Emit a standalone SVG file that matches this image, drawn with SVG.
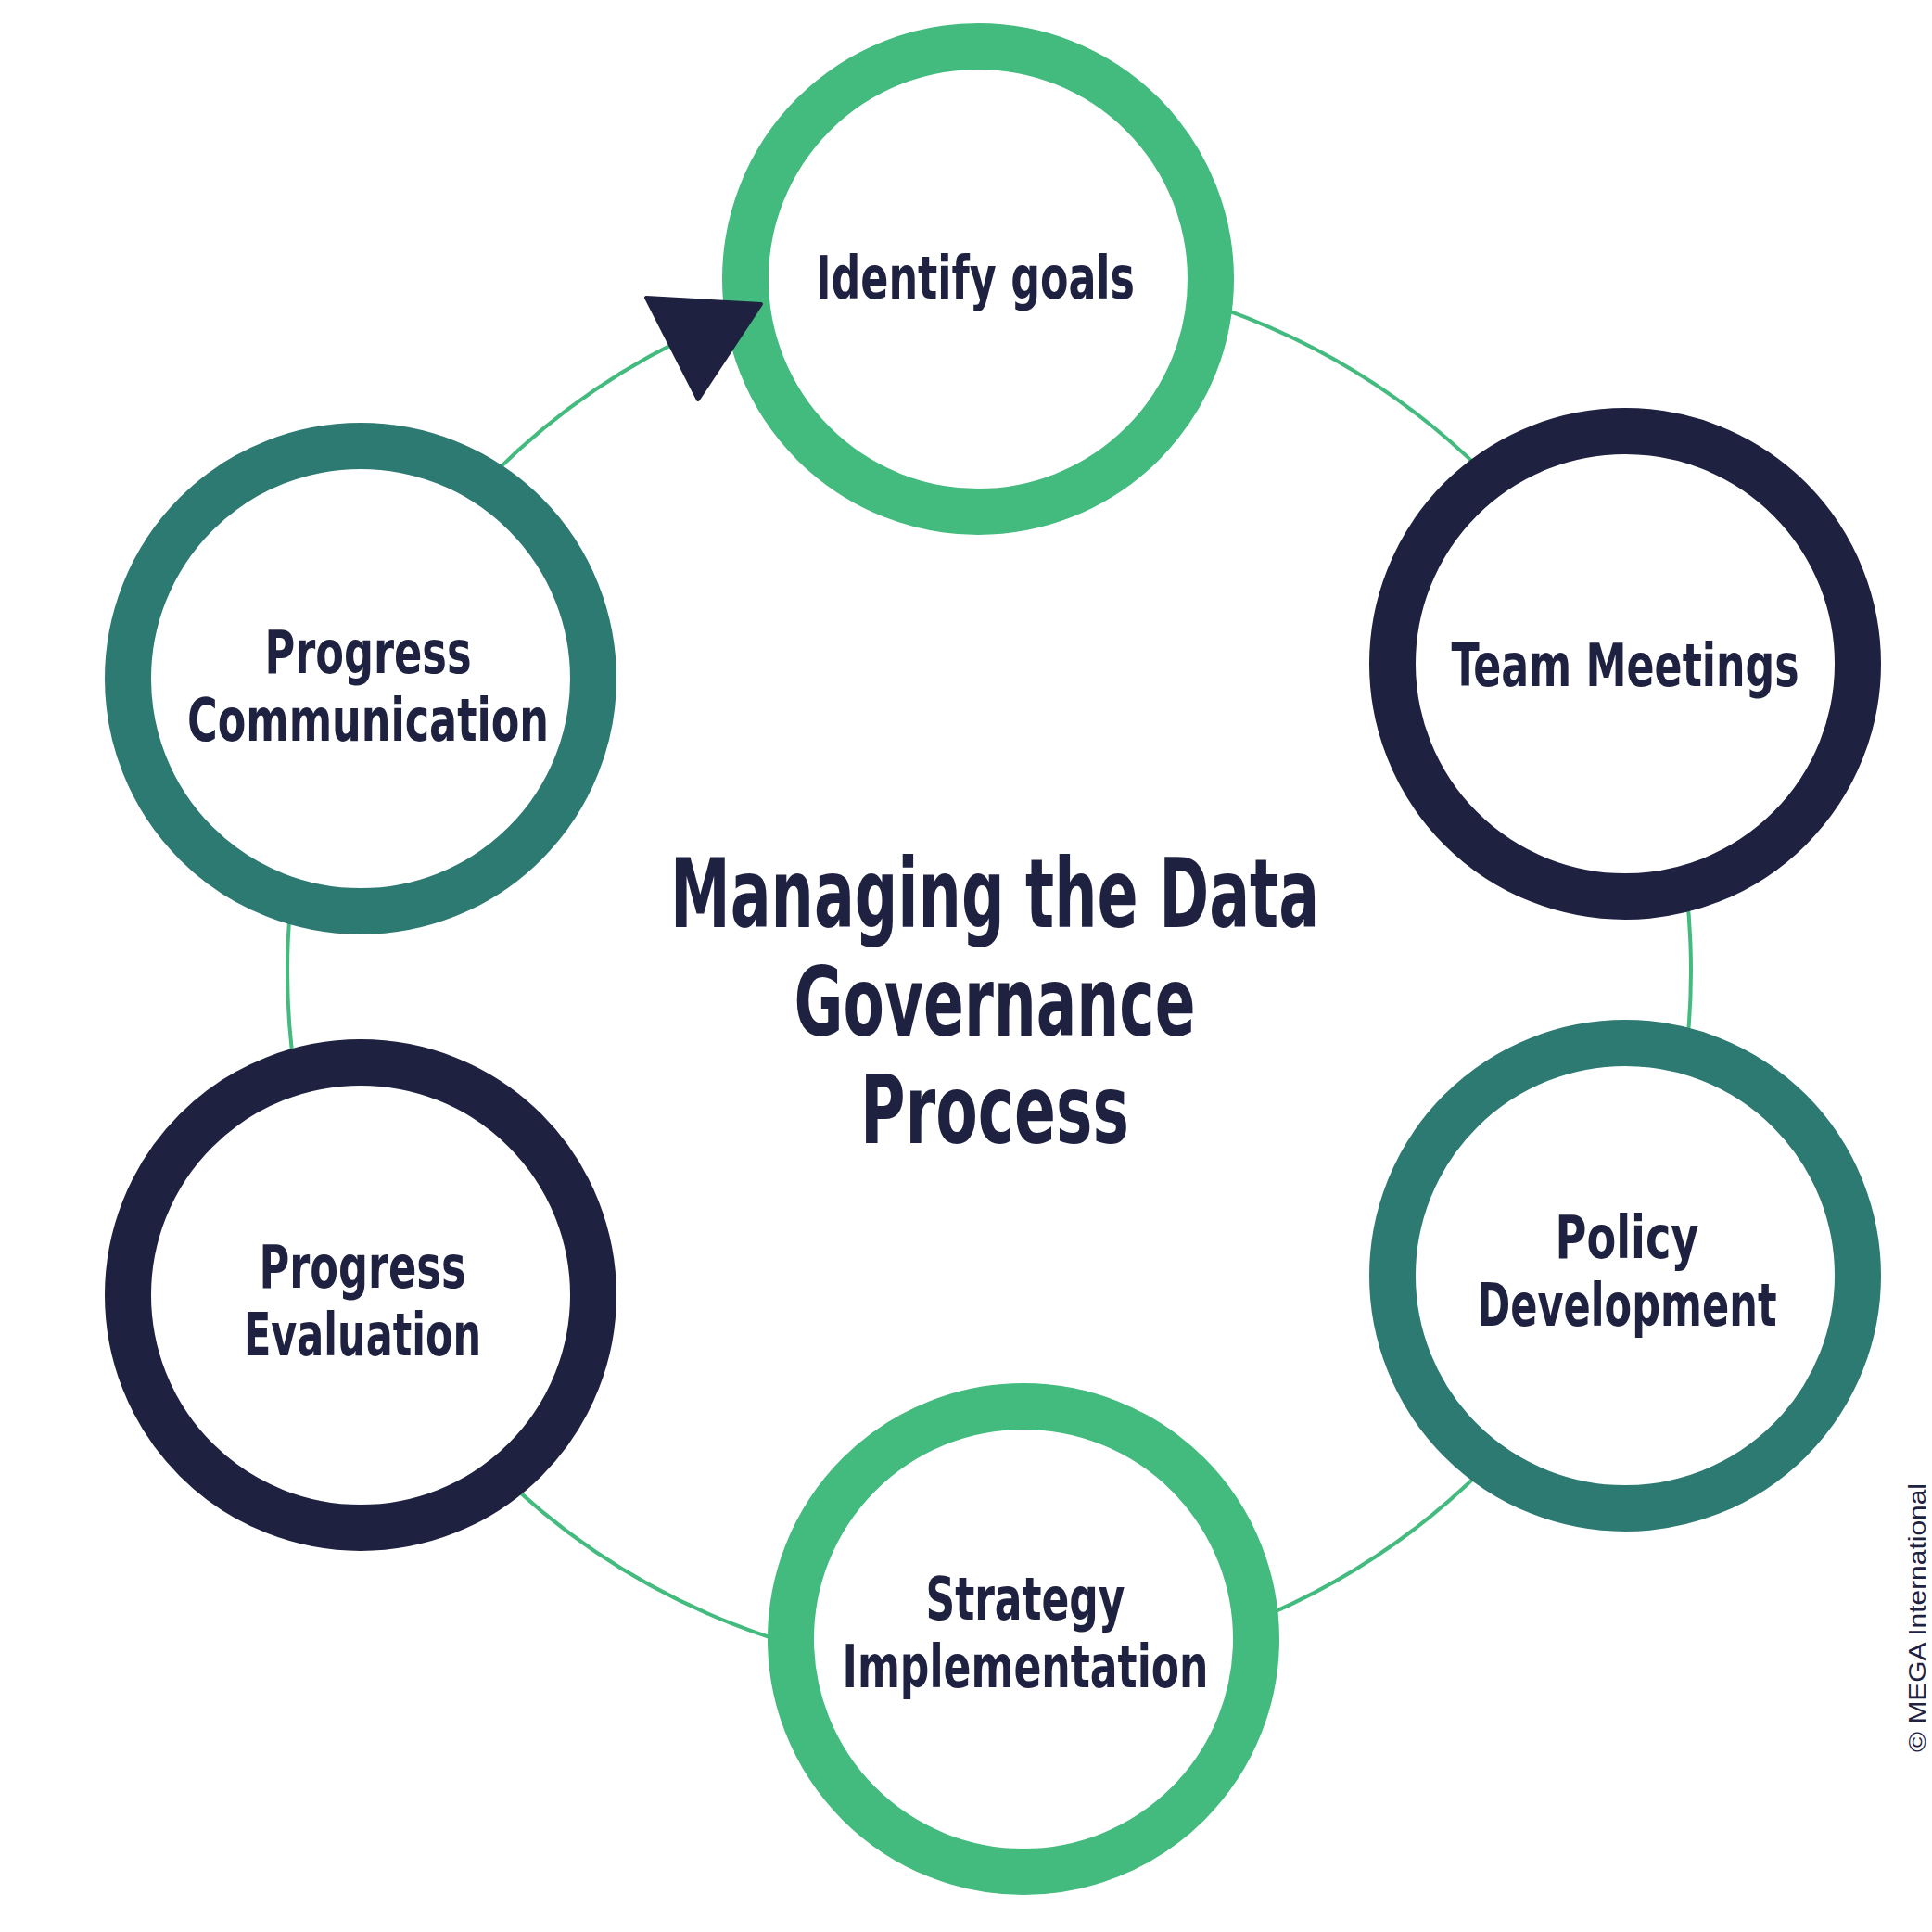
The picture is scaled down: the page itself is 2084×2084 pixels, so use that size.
<svg xmlns="http://www.w3.org/2000/svg" width="2084" height="2084" viewBox="0 0 2084 2084">
<style>
.ring{fill:#fff;stroke-width:50}
.g{stroke:#43BA7E}.n{stroke:#1E2140}.t{stroke:#2D7A72}
.lbl{font-family:"Liberation Sans Narrow","DejaVu Sans Condensed",sans-serif;font-weight:bold;font-size:64px;fill:#1E2140;text-anchor:middle}
.title{font-family:"Liberation Sans Narrow","DejaVu Sans Condensed",sans-serif;font-weight:bold;font-size:104px;fill:#1E2140;text-anchor:middle}
</style>
<rect width="2084" height="2084" fill="#fff"/>
<g id="connectors">
<circle cx="1067" cy="1047" r="757" fill="none" stroke="#43BA7E" stroke-width="4"/>
</g>
<g id="n1"><circle class="ring g" cx="1055" cy="301" r="251"/><text class="lbl" x="1052" y="322" textLength="344" lengthAdjust="spacingAndGlyphs">Identify goals</text></g>
<g id="n2"><circle class="ring n" cx="1753" cy="716" r="251"/><text class="lbl" x="1753" y="740" textLength="375" lengthAdjust="spacingAndGlyphs">Team Meetings</text></g>
<g id="n3"><circle class="ring t" cx="1753" cy="1376" r="251"/><text class="lbl" x="1755" y="1357" textLength="155" lengthAdjust="spacingAndGlyphs">Policy</text><text class="lbl" x="1755" y="1430" textLength="323" lengthAdjust="spacingAndGlyphs">Development</text></g>
<g id="n4"><circle class="ring g" cx="1104" cy="1768" r="251"/><text class="lbl" x="1106" y="1747" textLength="215" lengthAdjust="spacingAndGlyphs">Strategy</text><text class="lbl" x="1106" y="1820" textLength="395" lengthAdjust="spacingAndGlyphs">Implementation</text></g>
<g id="n5"><circle class="ring n" cx="389" cy="1397" r="251"/><text class="lbl" x="391" y="1389" textLength="223" lengthAdjust="spacingAndGlyphs">Progress</text><text class="lbl" x="391" y="1462" textLength="256" lengthAdjust="spacingAndGlyphs">Evaluation</text></g>
<g id="n6"><circle class="ring t" cx="389" cy="732" r="251"/><text class="lbl" x="397" y="726" textLength="223" lengthAdjust="spacingAndGlyphs">Progress</text><text class="lbl" x="397" y="799" textLength="390" lengthAdjust="spacingAndGlyphs">Communication</text></g>
<polygon points="697,321 821,328 753,431" fill="#1E2140" stroke="#1E2140" stroke-width="4" stroke-linejoin="round"/>
<g id="title">
<text class="title" x="1073" y="1000" textLength="700" lengthAdjust="spacingAndGlyphs">Managing the Data</text>
<text class="title" x="1073" y="1117" textLength="433" lengthAdjust="spacingAndGlyphs">Governance</text>
<text class="title" x="1073" y="1233" textLength="290" lengthAdjust="spacingAndGlyphs">Process</text>
</g>
<text x="2077" y="1890" transform="rotate(-90 2077 1890)" font-family="Liberation Sans, sans-serif" font-size="25" fill="#1E2140" textLength="290" lengthAdjust="spacingAndGlyphs">© MEGA International</text>
</svg>
